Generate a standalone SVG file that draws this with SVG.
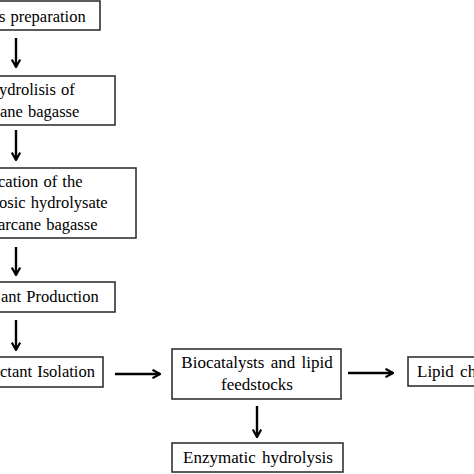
<svg xmlns="http://www.w3.org/2000/svg" width="474" height="474" viewBox="0 0 474 474">
<defs>
<style>
.box{fill:#fff;stroke:#333;stroke-width:1.6}
.t{font-family:"Liberation Serif","Times New Roman",serif;font-size:17px;fill:#000;word-spacing:2px}
.l{font-size:16.5px;word-spacing:1px}
.c{text-anchor:middle}
.arr{stroke:#000;stroke-width:2.4;fill:none;marker-end:url(#ah)}
</style>
<marker id="ah" viewBox="0 0 12 12" refX="10.5" refY="6" markerWidth="10" markerHeight="10" markerUnits="userSpaceOnUse" orient="auto">
<polyline points="1.5,1 10.5,6 1.5,11" fill="none" stroke="#000" stroke-width="2.6"/>
</marker>
</defs>
<rect width="474" height="474" fill="#fff"/>
<g id="n1"><rect class="box" x="-10" y="1" width="110" height="29"/><text class="t l" x="-1" y="22">s preparation</text></g>
<g id="n2"><rect class="box" x="-10" y="76" width="125" height="49"/><text class="t l" x="-1" y="95">ydrolisis of</text><text class="t l" x="0" y="117">ane bagasse</text></g>
<g id="n3"><rect class="box" x="-10" y="168" width="146" height="70"/><text class="t l" x="-2" y="187">cation of the</text><text class="t l" x="-1" y="208">osic hydrolysate</text><text class="t l" x="-2" y="230">arcane bagasse</text></g>
<g id="n4"><rect class="box" x="-10" y="282" width="125" height="30"/><text class="t l" x="1" y="302">ant Production</text></g>
<g id="n5"><rect class="box" x="-10" y="357" width="113" height="30"/><text class="t l" x="0" y="377">ctant Isolation</text></g>
<g id="n6"><rect class="box" x="172" y="349" width="169" height="50"/><text class="t c" x="257" y="368">Biocatalysts and lipid</text><text class="t c" x="257" y="390">feedstocks</text></g>
<g id="n7"><rect class="box" x="172" y="443" width="171" height="29"/><text class="t c" x="258" y="463">Enzymatic hydrolysis</text></g>
<g id="n8"><rect class="box" x="408" y="357" width="80" height="29"/><text class="t" x="417" y="377">Lipid ch</text></g>
<g id="connectors">
<line class="arr" x1="16" y1="38" x2="16" y2="67"/>
<line class="arr" x1="16" y1="130" x2="16" y2="160"/>
<line class="arr" x1="16" y1="247" x2="16" y2="275"/>
<line class="arr" x1="16" y1="320" x2="16" y2="350"/>
<line class="arr" x1="115" y1="374" x2="160" y2="374"/>
<line class="arr" x1="257" y1="406" x2="257" y2="437"/>
<line class="arr" x1="348" y1="373" x2="393" y2="373"/>
</g>
</svg>
